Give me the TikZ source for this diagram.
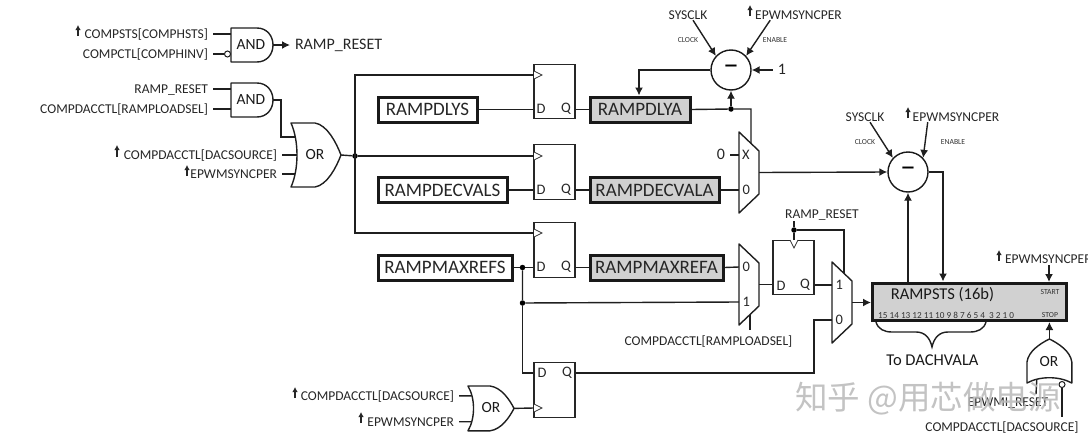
\documentclass[tikz,border=0pt]{standalone}
\usepackage{fontspec}
\setmainfont{Carlito}
\newfontfamily\cjk{Noto Sans CJK SC}
\usetikzlibrary{arrows.meta,positioning}

\tikzset{
  wire/.style={line width=1.4pt,draw=black!88},
  arr/.style={wire,-{Latex[length=8pt,width=8pt]}},
  edge/.style={line width=1.1pt,draw=black!85,-{Latex[length=5pt,width=5.5pt]}},
  lab/.style={inner sep=0pt,outer xsep=5pt,text height=9pt,text depth=1pt,font=\fontsize{13.5}{15}\selectfont,text=black!85},
  big/.style={lab,font=\fontsize{16}{18}\selectfont,text height=10pt},
  tiny/.style={inner sep=0pt,font=\fontsize{7.7}{8}\selectfont,text=black!80},
  pin/.style={inner sep=0pt,font=\fontsize{14.5}{16}\selectfont,text=black!85},
  gatetxt/.style={inner sep=0pt,font=\fontsize{15.5}{18}\selectfont,text=black!90},
  reg/.style={draw=black!90,line width=3pt,minimum height=25pt,inner sep=0pt,font=\fontsize{19}{20}\selectfont,text=black!85},
  acc/.style={reg,fill=black!18},
  dff/.style={draw=black!85,line width=1.2pt,minimum width=41pt,minimum height=54.5pt,inner sep=0pt},
  sub/.style={circle,draw=black!90,line width=1.4pt,minimum size=40pt,inner sep=0pt,font=\fontsize{30}{30}\selectfont},
  dot/.style={circle,fill=black,minimum size=5.5pt,inner sep=0pt},
  bubble/.style={circle,draw=black!90,fill=white,line width=1pt,minimum size=6pt,inner sep=0pt},
  andgate/.pic={
    \draw[wire,line join=round] (0,0) -- (26,0) .. controls (36,0) and (42,8) .. (42,17) .. controls (42,26) and (36,34) .. (26,34) -- (0,34) -- cycle;
    \coordinate (-a) at (0,6);
    \coordinate (-b) at (0,26);
    \coordinate (-out) at (42,17);
    \node[gatetxt] (-txt) at (20,17) {AND};
  },
  orgate/.pic={
    \draw[wire,line join=round] (0,0) .. controls (8,18) and (8,46) .. (0,64) -- (24,64) .. controls (36,62) and (45,45) .. (50,32) .. controls (45,19) and (36,2) .. (24,0) -- cycle;
    \coordinate (-a) at (4,14);
    \coordinate (-b) at (6,32);
    \coordinate (-c) at (4,51);
    \coordinate (-out) at (50,32);
    \coordinate (-mid) at (24,32);
  },
  mux/.pic={
    \draw[wire,line join=round] (0,0) -- (20,19) -- (20,62) -- (0,81) -- cycle;
    \coordinate (-a) at (0,23);
    \coordinate (-b) at (0,58);
    \coordinate (-top) at (12,11.4);
    \coordinate (-sel) at (11,70.5);
    \coordinate (-out) at (20,40.5);
  },
  clktri/.pic={
    \draw[line width=.8pt,draw=black!80,fill=white] (0,-4) -- (8,0) -- (0,4);
  }
}

\begin{document}
\begin{tikzpicture}[x=1pt,y=-1pt]
\useasboundingbox (0,0) rectangle (1088,442);

% gates on the left
\pic (anda) at (231,28) {andgate};
\pic (andb) at (231,83) {andgate};
\pic (ora) at (291,123) {orgate};
\node[gatetxt] (oratxt) at (315,155) {OR};
\pic[xscale=.92,yscale=.7] (orb) at (468,386) {orgate};
\node[gatetxt] (orbtxt) at (491,408) {OR};

\node[lab,anchor=east] (hsts) at (213,34) {COMPSTS[COMPHSTS]};
\node[lab,anchor=east] (hinv) at (213,54) {COMPCTL[COMPHINV]};
\node[lab,anchor=east] (rst) at (213,89) {RAMP\_RESET};
\node[lab,anchor=east] (lsel) at (213,109) {COMPDACCTL[RAMPLOADSEL]};
\node[lab,anchor=east] (dsrc) at (282,155) {COMPDACCTL[DACSOURCE]};
\node[lab,anchor=east] (syn) at (282,174) {EPWMSYNCPER};
\node[lab,anchor=east] (dsrcb) at (459,396) {COMPDACCTL[DACSOURCE]};
\node[lab,anchor=east] (synb) at (459,422) {EPWMSYNCPER};
\node[big,anchor=west] (rstout) at (290,45) {RAMP\_RESET};
\node[bubble] (inv) at (227.5,54) {};

\draw[wire] (hsts) -- (anda-a);
\draw[wire] (hinv) -- (inv);
\draw[arr] (anda-out) -- (rstout);
\draw[wire] (rst) -- (andb-a);
\draw[wire] (lsel) -- (andb-b);
\draw[wire] (andb-out) -| (281,137) -- (ora-a);
\draw[wire] (dsrc) -- (ora-b);
\draw[wire] (syn) -- (ora-c);
\draw[wire] (dsrcb) -- (orb-a);
\draw[wire] (synb) -- (orb-c);

\draw[edge] (78,36) -- +(0,-11);
\draw[edge] (117,157) -- +(0,-12);
\draw[edge] (187,176) -- +(0,-11);
\draw[edge] (295,398) -- +(0,-11);
\draw[edge] (361,423) -- +(0,-11);

% registers
\node[reg,minimum width=99pt] (dlys) at (427.5,109.5) {RAMPDLYS};
\node[reg,minimum width=129pt] (decvals) at (442.5,190) {RAMPDECVALS};
\node[reg,minimum width=134pt] (maxrefs) at (445,267.5) {RAMPMAXREFS};
\node[acc,minimum width=100pt] (dlya) at (640,109.5) {RAMPDLYA};
\node[acc,minimum width=129pt] (decvala) at (654.5,190) {RAMPDECVALA};
\node[acc,minimum width=133pt] (maxrefa) at (656.5,267.5) {RAMPMAXREFA};

% flip flops
\node[dff] (dffa) at (554.5,91.5) {};
\node[dff] (dffb) at (554.5,172) {};
\node[dff] (dffc) at (554.5,250) {};
\node[dff] (dffd) at (554.5,390) {};
\node[dff] (dffe) at (793.5,267.5) {};

\node[pin] (da) at (541,109) {D}; \node[pin] (qa) at (566,109) {Q};
\node[pin] (db) at (541,190) {D}; \node[pin] (qb) at (566,190) {Q};
\node[pin] (dc) at (541,267) {D}; \node[pin] (qc) at (566,267) {Q};
\node[pin] (dd) at (542,373) {D}; \node[pin] (qd) at (567,373) {Q};
\node[pin] (de) at (781,286) {D}; \node[pin] (qe) at (805,285) {Q};

\coordinate (clka) at (534,75);
\coordinate (clkb) at (534,156);
\coordinate (clkc) at (534,233);
\coordinate (clkd) at (534,408);
\coordinate (clke) at (794,240);
\coordinate (bus) at (355,75);
\coordinate (busend) at (355,233);
\node[dot] (busj) at (355,156) {};

\draw[wire] (ora-out) -- (busj);
\draw[wire] (clka) -- (bus) -- (busend) -- (clkc);
\draw[wire] (busj) -- (clkb);
\draw[wire] (orb-out) -- (clkd);
\pic at (clka) {clktri};
\pic at (clkb) {clktri};
\pic at (clkc) {clktri};
\pic at (clkd) {clktri};
\pic[rotate=-90] at (clke) {clktri};

\draw[wire] (dlys.east) -- (dlys.east -| dffa.west);
\draw[wire] (decvals.east) -- (decvals.east -| dffb.west);
\draw[wire] (maxrefs.east) -- (maxrefs.east -| dffc.west);
\draw[wire] (dffa.east |- dlya.west) -- (dlya.west);
\draw[wire] (dffb.east |- decvala.west) -- (decvala.west);
\draw[wire] (dffc.east |- maxrefa.west) -- (maxrefa.west);

% muxes
\pic (muxa) at (739,132) {mux};
\pic (muxb) at (739,244) {mux};
\pic (muxc) at (832,262) {mux};
\node[pin,right=3pt of muxa-a] (muxax) {X};
\node[pin,right=3.5pt of muxa-b] (muxao) {0};
\node[pin,right=3.5pt of muxb-a] (muxbo) {0};
\node[pin,right=3.5pt of muxb-b] (muxbi) {1};
\node[pin,right=3.5pt of muxc-a] (muxci) {1};
\node[pin,right=3.5pt of muxc-b] (muxco) {0};
\node[big,anchor=east] (zero) at (730,155) {0};

\draw[wire] (zero) -- (muxa-a);
\draw[wire] (decvala.east) -- (muxa-b);
\draw[wire] (maxrefa.east) -- (muxb-a);

\node[dot] (dsj) at (522.5,267.5) {};
\node[dot] (muxj) at (522.5,303) {};
\draw[wire] (dsj) -- (muxj) -- (muxb-b);
\draw[wire] (muxj) |- (dffd.west |- dd);
\draw[wire] (muxb-out) -- (dffe.west |- muxb-out);
\draw[wire] (dffe.east |- muxc-a) -- (muxc-a);
\draw[wire] (dffd.east |- dd) -| (814,320) -- (muxc-b);

\node[lab,anchor=north] (lselb) at (708.5,336) {COMPDACCTL[RAMPLOADSEL]};
\coordinate (selend) at (750,330);
\draw[wire] (muxb-sel) -- (selend);

\node[lab,anchor=south] (rstb) at (822,220) {RAMP\_RESET};
\node[dot] (rstj) at (794,230) {};
\draw[wire] (794,221) -- (rstj) -- (clke);
\draw[wire] (rstj) -| (muxc-top);

% first subtract block
\node[sub] (suba) at (731,70) {−};
\node[lab] (sysa) at (688,15) {SYSCLK};
\node[lab] (epwa) at (798.5,15) {EPWMSYNCPER};
\node[tiny] (clka-t) at (688,40) {CLOCK};
\node[tiny] (ena-t) at (775,40) {ENABLE};
\node[big] (one) at (782,70) {1};
\draw[edge] (750,16) -- +(0,-11);
\draw[arr] ([xshift=5pt]sysa.south) -- (suba.137);
\draw[arr] ([xshift=20pt]epwa.south west) -- (suba.43);
\draw[arr] (one) -- (suba.east);
\draw[arr] (suba.west) -| (dlya.north -| 639,97);
\node[dot] (dlyj) at (731,109) {};
\draw[wire] (dlya.east) -- (dlyj) -| (muxa-top);
\draw[arr] (dlyj) -- (suba.south);

% second subtract block and status register
\node[acc,minimum width=194pt,minimum height=37pt] (rampsts) at (969.5,302) {};
\node[sub] (subb) at (908,172) {−};
\node[lab] (sysb) at (865,117) {SYSCLK};
\node[lab] (epwb) at (956,117) {EPWMSYNCPER};
\node[tiny] (clkb-t) at (865,142) {CLOCK};
\node[tiny] (enb-t) at (953,142) {ENABLE};
\draw[edge] (908,118) -- +(0,-11);
\draw[arr] ([xshift=5pt]sysb.south) -- (subb.137);
\draw[arr] ([xshift=20pt]epwb.south west) -- (subb.43);
\draw[arr] (muxa-out) -- (subb.west);
\draw[arr] (908,281.5) -- (subb.south);
\draw[arr] (subb.east) -| (943,281.5);
\draw[arr] (muxc-out) -- (rampsts.west |- muxc-out);

\node[gatetxt,font=\fontsize{16.5}{20}\selectfont] (stsname) at (942.5,295) {RAMPSTS (16b)};
\node[tiny,anchor=west,font=\fontsize{9.2}{10}\selectfont] (bits) at (878,315) {15 14 13 12 11 10 9 8 7 6 5 4\ \ 3 2 1 0};
\node[tiny] (start) at (1050,292) {START};
\node[tiny] (stop) at (1050,315) {STOP};

\draw[wire] (876,322) .. controls (878,329) and (884,332) .. (892,332) -- (916,332) .. controls (925,332) and (930,338) .. (932,347) .. controls (934,338) and (939,332) .. (948,332) -- (970,332) .. controls (978,332) and (984,329) .. (986,322);
\node[gatetxt,font=\fontsize{16.5}{19}\selectfont] (dachvala) at (932.5,360) {To DACHVALA};

\node[lab,anchor=west] (epwc) at (1000,259) {EPWMSYNCPER};
\draw[edge] (999,261) -- +(0,-11);
\coordinate (startin) at (1049,265);
\draw[arr] (startin) -- (startin |- rampsts.north);

% or gate under the status register
\pic[rotate=90,xscale=.88,yscale=.7] (orc) at (1027,383) {orgate};
\node[gatetxt] (orctxt) at (1049,362) {OR};
\node[bubble] (invc) at (1062,384.5) {};
\node[lab,anchor=center] (rstc) at (1008,402) {EPWMI\_RESET};
\node[lab,anchor=center] (dsrcc) at (1002,427) {COMPDACCTL[DACSOURCE]};
\draw[arr] (orc-out) -- (orc-out |- rampsts.south);
\draw[wire] (orc-a) -- (1036,394);
\draw[wire] (invc) -- (1062,417);

% watermark
\node[inner sep=0pt,anchor=west,text=black!28,opacity=.85,font=\cjk\fontsize{32.5}{34}\selectfont] (mark) at (795,399) {知乎 @用芯做电源};

\end{tikzpicture}
\end{document}
